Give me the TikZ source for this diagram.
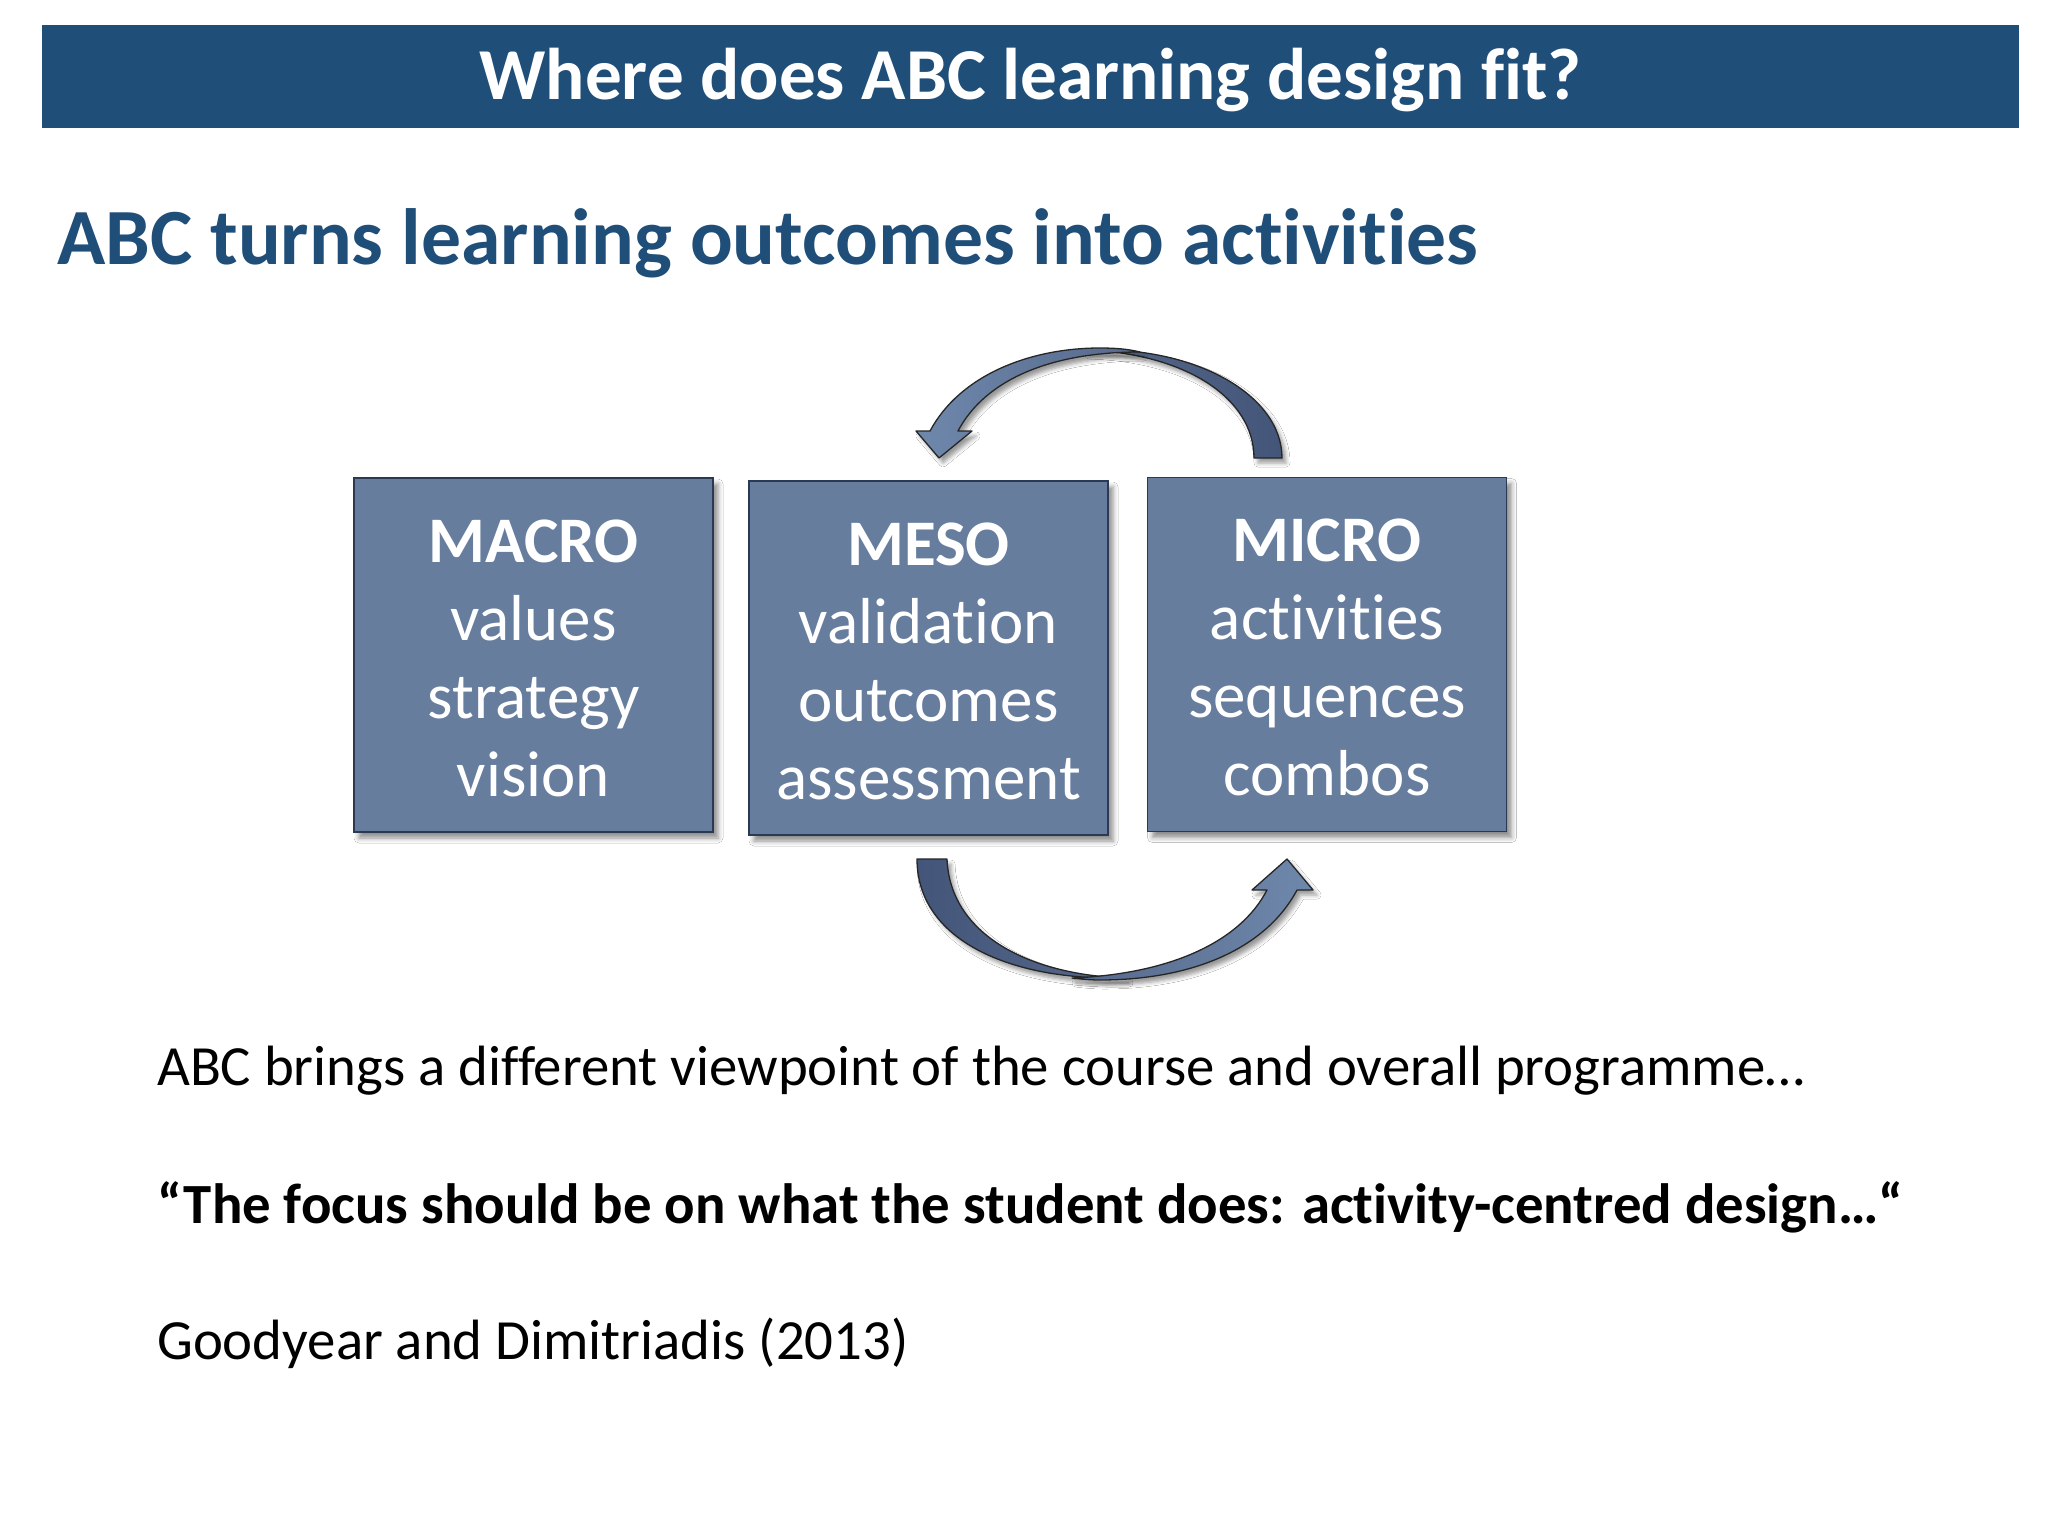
\documentclass[tikz,border=0pt]{standalone}
\usepackage{fontspec}
\setmainfont{Carlito}[Ligatures=NoCommon]
\usetikzlibrary{shadows.blur}
\definecolor{navy}{HTML}{1F4E79}
\definecolor{boxfill}{HTML}{667D9E}
\definecolor{boxline}{HTML}{2B3A52}
\definecolor{arrLightA}{HTML}{6E88AB}
\definecolor{arrLightB}{HTML}{56698C}
\definecolor{arrDarkA}{HTML}{56698C}
\definecolor{arrDarkB}{HTML}{435578}
\begin{document}
\begin{tikzpicture}[x=1pt,y=-1pt,
  box/.style={draw=boxline, line width=1.8pt, fill=boxfill, minimum width=359pt, minimum height=354pt, inner sep=0pt,
    blur shadow={shadow xshift=5pt,shadow yshift=-6pt,shadow blur radius=5pt,shadow opacity=45}},
  boxtext/.style={text=white, align=center, font=\fontsize{65}{78}\selectfont, inner sep=0pt},
  body/.style={anchor=base west, inner sep=0pt, font=\fontsize{56.8}{68}\selectfont},
  arrowband/.style={draw=black!85, line width=1.3pt, line join=round,
    blur shadow={shadow xshift=4pt,shadow yshift=-5pt,shadow blur radius=4pt,shadow opacity=40}}
]
\useasboundingbox (0,0) rectangle (2048,1536);
\fill[white] (0,0) rectangle (2048,1536);
% title bar
\node[fill=navy, minimum width=1977pt, minimum height=103pt, inner sep=0pt, anchor=north west] (bar) at (42,25) {};
\node[anchor=base, inner sep=0pt, text=white, font=\bfseries\fontsize{73.2}{88}\selectfont] (title) at (1030.5,100) {Where does ABC learning design fit?};
% subtitle
\node[anchor=base west, inner sep=0pt, text=navy, font=\bfseries\fontsize{79.7}{95}\selectfont] (sub) at (57,264) {ABC turns learning outcomes into activities};
% boxes
\node[box] (macro) at (533.5,655) {};
\node[box] (meso) at (928.5,658) {};
\node[box] (micro) at (1327,654.5) {};
\node[boxtext] (macrotext) at ([yshift=-3pt]macro.center) {\textbf{MACRO}\\values\\strategy\\vision};
\node[boxtext] (mesotext) at ([yshift=-3pt]meso.center) {\textbf{MESO}\\validation\\outcomes\\assessment};
\node[boxtext] (microtext) at ([yshift=-3pt]micro.center) {\textbf{MICRO}\\activities\\sequences\\combos};
% top arrow: back band
\path[arrowband, left color=arrDarkA, right color=arrDarkB]
  (1282,458) -- (1254,458) .. controls (1254,398) and (1185,353) .. (1085,350)
  .. controls (1195,345) and (1282,395) .. (1282,458) -- cycle;
% top arrow: front band with head
\path[arrowband, left color=arrLightA, right color=arrLightB]
  (958,431) -- (972,431) -- (939,458) -- (916,431) -- (930,431)
  .. controls (960,375) and (1030,348) .. (1100,348)
  .. controls (1115,348) and (1128,349) .. (1140,352)
  .. controls (1050,352) and (985,380) .. (958,431) -- cycle;
% bottom arrow: back band
\path[arrowband, left color=arrDarkB, right color=arrDarkA]
  (917,859) -- (947,859) .. controls (950,935) and (1030,975) .. (1125,978)
  .. controls (1010,981) and (917,940) .. (917,859) -- cycle;
% bottom arrow: front band with head
\path[arrowband, left color=arrLightB, right color=arrLightA]
  (1267,890) -- (1252,890) -- (1287,859) -- (1313,890) -- (1297,890)
  .. controls (1265,950) and (1190,980) .. (1100,980)
  .. controls (1090,980) and (1080,979) .. (1072,978)
  .. controls (1170,974) and (1240,942) .. (1267,890) -- cycle;
% body text
\node[body] (line1) at (157,1085) {ABC brings a different viewpoint of the course and overall programme…};
\node[body, font=\bfseries\fontsize{56.8}{68}\selectfont] (quote) at (157,1223) {“The focus should be on what the student does: activity-centred design…“};
\node[body] (cite) at (157,1359) {Goodyear and Dimitriadis (2013)};
\end{tikzpicture}
\end{document}
